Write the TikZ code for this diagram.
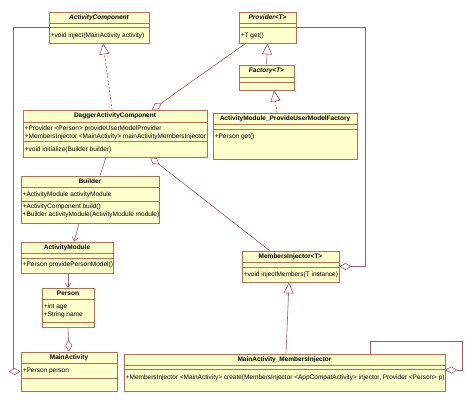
\documentclass[tikz,border=0pt]{standalone}
\usepackage{fontspec}
\setmainfont{Liberation Sans}
\usepackage{tikz}
\usetikzlibrary{calc, positioning, arrows.meta}
\definecolor{boxFill}{RGB}{255, 255, 204}
\definecolor{boxEdge}{RGB}{176, 112, 88}
\definecolor{linkCol}{RGB}{156, 92, 104}

\begin{document}
\begin{tikzpicture}[x=1pt, y=-1pt,
    cls/.style={draw=boxEdge, fill=boxFill, line width=0.7pt, inner sep=0pt},
    title/.style={font=\fontsize{6.5}{7}\selectfont\bfseries, inner sep=0pt},
    abstitle/.style={font=\fontsize{6.5}{7}\selectfont\bfseries\itshape, inner sep=0pt},
    member/.style={font=\fontsize{6.5}{7}\selectfont, anchor=west, inner sep=0pt},
    link/.style={draw=linkCol, line width=0.6pt},
    realize/.style={link, dashed, dash pattern=on 2pt off 1.5pt, -{Triangle[open, length=11pt, width=10pt, fill=white]}},
    inherit/.style={link, -{Triangle[open, length=11pt, width=10pt, fill=white]}},
    aggr/.style={link, {Diamond[open, length=12pt, width=7pt, fill=white]}-},
    navig/.style={link, -{Straight Barb[length=4pt, width=6pt]}}]
  \useasboundingbox (0,0) rectangle (474,403);

  % class boxes
  \node[cls, minimum width=100, minimum height=31] (ac) at (99,27.5) {};
  \node[cls, minimum width=57, minimum height=31] (prov) at (267.5,27.5) {};
  \node[cls, minimum width=55, minimum height=25] (fac) at (266.5,77.5) {};
  \node[cls, minimum width=184, minimum height=47] (dac) at (115,133.5) {};
  \node[cls, minimum width=144, minimum height=46] (amf) at (285,136) {};
  \node[cls, minimum width=138, minimum height=47] (bld) at (90,199.5) {};
  \node[cls, minimum width=92, minimum height=31] (am) at (67,257.5) {};
  \node[cls, minimum width=52, minimum height=39] (per) at (68,307.5) {};
  \node[cls, minimum width=96, minimum height=39] (ma) at (69,371.5) {};
  \node[cls, minimum width=97, minimum height=31] (mi) at (290.5,266.5) {};
  \node[cls, minimum width=321, minimum height=37] (mami) at (284.5,372.5) {};

  % compartment lines
  \foreach \cl/\off in {ac/12, ac/16, prov/12, prov/16, fac/13, fac/18,
      dac/13, dac/32, amf/12, amf/17, bld/12, bld/26, am/12, am/17,
      per/12, per/34.5, ma/11.5, ma/26.5, mi/12, mi/17, mami/12, mami/16}
    \draw[draw=boxEdge, line width=0.6pt] ([yshift=-\off pt]\cl.north west) -- ([yshift=-\off pt]\cl.north east);

  % titles
  \node[abstitle] (ac-t) at ([yshift=-6pt]ac.north) {ActivityComponent};
  \node[abstitle] (prov-t) at ([yshift=-6pt]prov.north) {Provider<T>};
  \node[abstitle] (fac-t) at ([yshift=-6.5pt]fac.north) {Factory<T>};
  \node[title] (dac-t) at ([yshift=-6.5pt]dac.north) {DaggerActivityComponent};
  \node[title] (amf-t) at ([yshift=-6pt]amf.north) {ActivityModule\_ProvideUserModelFactory};
  \node[title] (bld-t) at ([yshift=-6pt]bld.north) {Builder};
  \node[title] (am-t) at ([yshift=-6pt]am.north) {ActivityModule};
  \node[title] (per-t) at ([yshift=-6pt]per.north) {Person};
  \node[title] (ma-t) at ([yshift=-6pt]ma.north) {MainActivity};
  \node[title] (mi-t) at ([yshift=-6pt]mi.north) {MembersInjector<T>};
  \node[title] (mami-t) at ([yshift=-6pt]mami.north) {MainActivity\_MembersInjector};

  % members
  \node[member] (ac-o) at ([xshift=2pt, yshift=-24pt]ac.north west) {+void inject(MainActivity activity)};
  \node[member] (prov-o) at ([xshift=2pt, yshift=-24pt]prov.north west) {+T get()};
  \node[member] (dac-a1) at ([xshift=2pt, yshift=-19pt]dac.north west) {+Provider <Person> provideUserModelProvider};
  \node[member] (dac-a2) at ([xshift=2pt, yshift=-27pt]dac.north west) {+MembersInjector <MainActivity> mainActivityMembersInjector};
  \node[member] (dac-o) at ([xshift=2pt, yshift=-40pt]dac.north west) {+void initialize(Builder builder)};
  \node[member] (amf-o) at ([xshift=2pt, yshift=-24pt]amf.north west) {+Person get()};
  \node[member] (bld-a) at ([xshift=2pt, yshift=-19pt]bld.north west) {+ActivityModule activityModule};
  \node[member] (bld-o1) at ([xshift=2pt, yshift=-31.5pt]bld.north west) {+ActivityComponent build()};
  \node[member] (bld-o2) at ([xshift=2pt, yshift=-39.5pt]bld.north west) {+Builder activityModule(ActivityModule module)};
  \node[member] (am-o) at ([xshift=2pt, yshift=-23pt]am.north west) {+Person providePersonModel()};
  \node[member] (per-a1) at ([xshift=2pt, yshift=-19.5pt]per.north west) {+int age};
  \node[member] (per-a2) at ([xshift=2pt, yshift=-27pt]per.north west) {+String name};
  \node[member] (ma-a) at ([xshift=2pt, yshift=-19pt]ma.north west) {+Person person};
  \node[member] (mi-o) at ([xshift=2pt, yshift=-24pt]mi.north west) {+void injectMembers(T instance)};
  \node[member] (mami-o) at ([xshift=2pt, yshift=-24pt]mami.north west) {+MembersInjector <MainActivity> create(MembersInjector <AppCompatActivity> injector, Provider <Person> p)};

  % realization and generalization
  \draw[realize] ([xshift=-3pt]dac.north) -- ([xshift=4pt]ac.south);
  \draw[realize] ([xshift=-8pt]amf.north) -- ([xshift=7.5pt]fac.south);
  \draw[inherit] (fac.north) -- (prov.south);
  \draw[inherit] ([xshift=1.5pt]mami.north) -- ([xshift=-1.5pt]mi.south);

  % aggregations
  \draw[aggr] ([xshift=37pt]dac.north) -- ([xshift=7pt]prov.south west);
  \draw[aggr] ([xshift=35pt]dac.south) -- ([xshift=28pt]mi.north west);
  \draw[aggr] (ma.north) -- (per.south);
  \draw[aggr] (ma.west) -- ++(-7,0) |- (ac.west);
  \draw[aggr] (mi.east) -- ++(26,0) |- (prov.east);
  \coordinate (loop) at ([xshift=86pt, yshift=12pt]mami.north);
  \draw[aggr] ([yshift=2.5pt]mami.east) -- ++(17,0) |- (loop) -- ([xshift=86pt]mami.north);

  % associations
  \draw[link] ([xshift=-9pt]dac.south) -- ([xshift=10pt]bld.north);
  \draw[navig] ([xshift=-11pt]bld.south) -- ([xshift=7pt]am.north);
  \draw[navig] ([xshift=1pt]am.south) -- (per.north);
\end{tikzpicture}
\end{document}
